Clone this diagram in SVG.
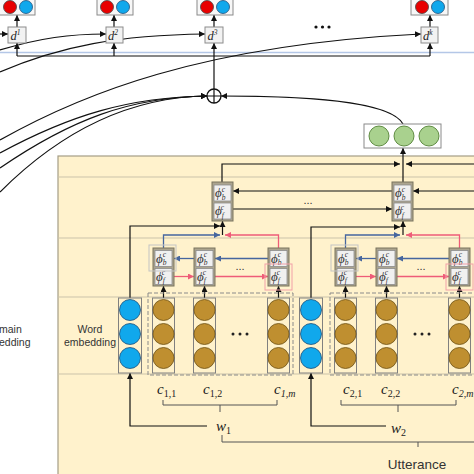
<svg xmlns="http://www.w3.org/2000/svg" width="474" height="474" viewBox="0 0 474 474">
<style>
.ln{fill:none;stroke:#111;stroke-width:1.2}
.bl{fill:none;stroke:#46669e;stroke-width:1.3}
.rd{fill:none;stroke:#ee5c78;stroke-width:1.3}
.sep{stroke:#cbc3aa;stroke-width:1}
.obox{fill:#f7f7f7;stroke:#8a8a8a;stroke-width:1}
.red{fill:#e80000;stroke:#444;stroke-width:0.8}
.blu{fill:#10a8ec;stroke:#1f4e79;stroke-width:0.8}
.grn{fill:#a9d18e;stroke:#548235;stroke-width:0.9}
.brn{fill:#bf8f30;stroke:#6b4f14;stroke-width:0.8}
.col{fill:#fff2cc;stroke:#808080;stroke-width:1}
.dbox{fill:#f2f2f2;stroke:#8c8c8c;stroke-width:1}
.pout{fill:#aca58f;stroke:#7a745f;stroke-width:1}
.pin{fill:#f0f0f0;stroke:#8c8c8c;stroke-width:0.8}
.m{font-family:"Liberation Serif",serif;font-style:italic;fill:#222}
.phi{font-family:"Liberation Serif",serif;font-style:italic;font-size:13px;fill:#333}
.lab{font-family:"Liberation Sans",Arial,sans-serif;fill:#333}
.dash{fill:none;stroke:#8a8a8a;stroke-width:1;stroke-dasharray:4 2}
.br{fill:none;stroke:#555;stroke-width:1}
</style>
<defs>
<marker id="ah" viewBox="0 0 10 10" refX="10" refY="5" markerWidth="6" markerHeight="6" orient="auto" markerUnits="userSpaceOnUse"><path d="M0,0 L10,5 L0,10 z" fill="#111"/></marker>
<marker id="ahb" viewBox="0 0 10 10" refX="10" refY="5" markerWidth="6" markerHeight="6" orient="auto" markerUnits="userSpaceOnUse"><path d="M0,0 L10,5 L0,10 z" fill="#46669e"/></marker>
<marker id="ahr" viewBox="0 0 10 10" refX="10" refY="5" markerWidth="6" markerHeight="6" orient="auto" markerUnits="userSpaceOnUse"><path d="M0,0 L10,5 L0,10 z" fill="#ee5c78"/></marker>
</defs>
<rect width="474" height="474" fill="#fff"/>

<g id="panel">
<rect x="58" y="156" width="430" height="330" fill="#fff2cc" stroke="#a59d86" stroke-width="1.2"/>
<line class="sep" x1="58" y1="177" x2="474" y2="177"/>
<line class="sep" x1="58" y1="238" x2="474" y2="238"/>
<line class="sep" x1="58" y1="297" x2="474" y2="297"/>
<line class="sep" x1="58" y1="374" x2="474" y2="374"/>
<line x1="0" y1="52.5" x2="474" y2="52.5" stroke="#b4c7e7" stroke-width="1.6"/>
</g>

<g id="connectors">
<path class="ln" d="M0,34 H8" marker-end="url(#ah)"/>
<path class="ln" d="M17,27 V15" marker-end="url(#ah)"/>
<path class="ln" d="M114,27 V15" marker-end="url(#ah)"/>
<path class="ln" d="M214,27 V15" marker-end="url(#ah)"/>
<path class="ln" d="M430,27 V15" marker-end="url(#ah)"/>
<path class="ln" d="M17,56 H430"/>
<path class="ln" d="M17,56 V43" marker-end="url(#ah)"/>
<path class="ln" d="M114,56 V43" marker-end="url(#ah)"/>
<path class="ln" d="M430,56 V43" marker-end="url(#ah)"/>
<path class="ln" d="M214,89 V43" marker-end="url(#ah)"/>
<path class="ln" d="M0,50 C40,38 70,34 106,34" marker-end="url(#ah)"/>
<path class="ln" d="M0,72 C60,46 120,35 205,34" marker-end="url(#ah)"/>
<path class="ln" d="M0,140 C80,95 200,45 421,34" marker-end="url(#ah)"/>
<path class="ln" d="M0,153 C70,115 130,97 207,96" marker-end="url(#ah)"/>
<path class="ln" d="M0,168 C70,120 130,97 207,96" marker-end="url(#ah)"/>
<path class="ln" d="M0,192 C60,132 130,97 207,96" marker-end="url(#ah)"/>
<path class="ln" d="M403,124 C390,100 300,96 221,96" marker-end="url(#ah)"/>
<path class="ln" d="M222,182 V164 H400" marker-end="url(#ah)"/>
<path class="ln" d="M474,164 H406" marker-end="url(#ah)"/>
<path class="ln" d="M403,182 V148" marker-end="url(#ah)"/>
<path class="ln" d="M474,191 H413" marker-end="url(#ah)"/>
<path class="ln" d="M392,191 H233" marker-end="url(#ah)"/>
<path class="ln" d="M233,209 H392" marker-end="url(#ah)"/>
<path class="ln" d="M413,209 H474"/>
<path class="ln" d="M130,298 V226 H220" marker-end="url(#ah)"/>
<path class="ln" d="M222.5,235 V221" marker-end="url(#ah)"/>
<path class="bl" d="M163.5,248 V235 H220" marker-end="url(#ahb)"/>
<path class="rd" d="M278.5,248 V235 H225" marker-end="url(#ahr)"/>
<path class="ln" d="M311,298 V227 H400" marker-end="url(#ah)"/>
<path class="ln" d="M403,235 V221" marker-end="url(#ah)"/>
<path class="bl" d="M345.5,248 V235 H400" marker-end="url(#ahb)"/>
<path class="rd" d="M459.5,248 V235 H406" marker-end="url(#ahr)"/>
<path class="bl" d="M268,258.5 H215" marker-end="url(#ahb)"/>
<path class="bl" d="M194,258.5 H174" marker-end="url(#ahb)"/>
<path class="rd" d="M174,276.5 H194" marker-end="url(#ahr)"/>
<path class="rd" d="M215,276.5 H268" marker-end="url(#ahr)"/>
<path class="bl" d="M449,258.5 H397" marker-end="url(#ahb)"/>
<path class="bl" d="M376,258.5 H356" marker-end="url(#ahb)"/>
<path class="rd" d="M356,276.5 H376" marker-end="url(#ahr)"/>
<path class="rd" d="M397,276.5 H449" marker-end="url(#ahr)"/>
<path class="ln" d="M163.5,298 V286" marker-end="url(#ah)"/>
<path class="ln" d="M204.5,298 V286" marker-end="url(#ah)"/>
<path class="ln" d="M278.5,298 V286" marker-end="url(#ah)"/>
<path class="ln" d="M345.5,298 V286" marker-end="url(#ah)"/>
<path class="ln" d="M386.5,298 V286" marker-end="url(#ah)"/>
<path class="ln" d="M459.5,298 V286" marker-end="url(#ah)"/>
<path class="ln" d="M207,426 H130 V373" marker-end="url(#ah)"/>
<path class="ln" d="M386,426 H311 V373" marker-end="url(#ah)"/>
<path class="br" d="M163,400 V405 H277 V400 M220,405 V412"/>
<path class="br" d="M341,400 V405 H456 V400 M398,405 V412"/>
<path class="br" d="M222,435 V442 H474 M418,442 V447"/>
</g>

<g id="out1"><rect class="obox" x="-2" y="-2" width="37" height="17"/><circle class="red" cx="10" cy="7" r="6.5"/><circle class="blu" cx="26" cy="7" r="6.5"/></g>
<g id="out2"><rect class="obox" x="97" y="-2" width="36" height="17"/><circle class="red" cx="107" cy="7" r="6.5"/><circle class="blu" cx="123" cy="7" r="6.5"/></g>
<g id="out3"><rect class="obox" x="197" y="-2" width="36" height="17"/><circle class="red" cx="207" cy="7" r="6.5"/><circle class="blu" cx="223" cy="7" r="6.5"/></g>
<g id="outk"><rect class="obox" x="411" y="-2" width="37" height="17"/><circle class="red" cx="422" cy="7" r="6.5"/><circle class="blu" cx="438" cy="7" r="6.5"/></g>

<g id="d1"><rect class="dbox" x="8" y="27" width="18" height="16"/><text class="m" x="10.5" y="39.5" font-size="12.5">d<tspan font-size="7.5" dy="-5">1</tspan></text></g>
<g id="d2"><rect class="dbox" x="106" y="27" width="17" height="16"/><text class="m" x="108" y="39.5" font-size="12.5">d<tspan font-size="7.5" dy="-5">2</tspan></text></g>
<g id="d3"><rect class="dbox" x="205" y="27" width="18" height="16"/><text class="m" x="207.5" y="39.5" font-size="12.5">d<tspan font-size="7.5" dy="-5">3</tspan></text></g>
<g id="dk"><rect class="dbox" x="421" y="27" width="17" height="16"/><text class="m" x="423" y="39.5" font-size="12.5">d<tspan font-size="7.5" dy="-5">k</tspan></text></g>
<g id="dots-top"><circle cx="316" cy="27" r="1.6" fill="#111"/><circle cx="322.5" cy="27" r="1.6" fill="#111"/><circle cx="329" cy="27" r="1.6" fill="#111"/></g>

<g id="oplus"><circle cx="214" cy="96" r="7" fill="#fff" stroke="#111" stroke-width="1.3"/><path d="M207,96 H221 M214,89 V103" stroke="#111" stroke-width="1.2"/></g>

<g id="sent"><rect x="364" y="124" width="77" height="24" fill="#fff" stroke="#8a8a8a" stroke-width="1"/><circle class="grn" cx="379" cy="136" r="10"/><circle class="grn" cx="404" cy="136" r="10"/><circle class="grn" cx="429" cy="136" r="10"/></g>

<g id="pw1"><rect class="pout" x="212" y="182" width="21" height="39"/><rect class="pin" x="214" y="185" width="17" height="16"/><rect class="pin" x="214" y="203" width="17" height="16"/>
<text class="phi" x="215" y="197">ϕ<tspan font-size="7.5" dy="2.5">b</tspan><tspan font-size="7.5" dx="-3.8" dy="-8">c</tspan></text>
<text class="phi" x="215" y="215">ϕ<tspan font-size="7.5" dy="2.5">f</tspan><tspan font-size="7.5" dx="-3" dy="-8">c</tspan></text></g>
<g id="pw2"><rect class="pout" x="392" y="182" width="21" height="39"/><rect class="pin" x="394" y="185" width="17" height="16"/><rect class="pin" x="394" y="203" width="17" height="16"/>
<text class="phi" x="395" y="197">ϕ<tspan font-size="7.5" dy="2.5">b</tspan><tspan font-size="7.5" dx="-3.8" dy="-8">c</tspan></text>
<text class="phi" x="395" y="215">ϕ<tspan font-size="7.5" dy="2.5">f</tspan><tspan font-size="7.5" dx="-3" dy="-8">c</tspan></text></g>
<text class="lab" x="308" y="204" font-size="11" text-anchor="middle">...</text>

<g id="pcA"><rect class="pout" x="153" y="248" width="21" height="38"/><rect class="pin" x="155" y="250.5" width="17" height="16"/><rect class="pin" x="155" y="268.5" width="17" height="16"/>
<text class="phi" x="156" y="262.5">ϕ<tspan font-size="7.5" dy="2.5">b</tspan><tspan font-size="7.5" dx="-3.8" dy="-8">c</tspan></text>
<text class="phi" x="156" y="280.5">ϕ<tspan font-size="7.5" dy="2.5">f</tspan><tspan font-size="7.5" dx="-3" dy="-8">c</tspan></text>
<rect x="149" y="245" width="27" height="26" fill="none" stroke="#c4c4c4" stroke-width="1"/></g>
<g id="pcB"><rect class="pout" x="194" y="248" width="21" height="38"/><rect class="pin" x="196" y="250.5" width="17" height="16"/><rect class="pin" x="196" y="268.5" width="17" height="16"/>
<text class="phi" x="197" y="262.5">ϕ<tspan font-size="7.5" dy="2.5">b</tspan><tspan font-size="7.5" dx="-3.8" dy="-8">c</tspan></text>
<text class="phi" x="197" y="280.5">ϕ<tspan font-size="7.5" dy="2.5">f</tspan><tspan font-size="7.5" dx="-3" dy="-8">c</tspan></text></g>
<g id="pcC"><rect class="pout" x="268" y="248" width="21" height="38"/><rect class="pin" x="270" y="250.5" width="17" height="16"/><rect class="pin" x="270" y="268.5" width="17" height="16"/>
<text class="phi" x="271" y="262.5">ϕ<tspan font-size="7.5" dy="2.5">b</tspan><tspan font-size="7.5" dx="-3.8" dy="-8">c</tspan></text>
<text class="phi" x="271" y="280.5">ϕ<tspan font-size="7.5" dy="2.5">f</tspan><tspan font-size="7.5" dx="-3" dy="-8">c</tspan></text>
<rect x="265" y="264" width="27" height="26" fill="none" stroke="#f2a0a8" stroke-width="1"/></g>
<text class="lab" x="240" y="270" font-size="11" text-anchor="middle">...</text>

<g id="pcD"><rect class="pout" x="335" y="248" width="21" height="38"/><rect class="pin" x="337" y="250.5" width="17" height="16"/><rect class="pin" x="337" y="268.5" width="17" height="16"/>
<text class="phi" x="338" y="262.5">ϕ<tspan font-size="7.5" dy="2.5">b</tspan><tspan font-size="7.5" dx="-3.8" dy="-8">c</tspan></text>
<text class="phi" x="338" y="280.5">ϕ<tspan font-size="7.5" dy="2.5">f</tspan><tspan font-size="7.5" dx="-3" dy="-8">c</tspan></text>
<rect x="331" y="245" width="27" height="26" fill="none" stroke="#c4c4c4" stroke-width="1"/></g>
<g id="pcE"><rect class="pout" x="376" y="248" width="21" height="38"/><rect class="pin" x="378" y="250.5" width="17" height="16"/><rect class="pin" x="378" y="268.5" width="17" height="16"/>
<text class="phi" x="379" y="262.5">ϕ<tspan font-size="7.5" dy="2.5">b</tspan><tspan font-size="7.5" dx="-3.8" dy="-8">c</tspan></text>
<text class="phi" x="379" y="280.5">ϕ<tspan font-size="7.5" dy="2.5">f</tspan><tspan font-size="7.5" dx="-3" dy="-8">c</tspan></text></g>
<g id="pcF"><rect class="pout" x="449" y="248" width="21" height="38"/><rect class="pin" x="451" y="250.5" width="17" height="16"/><rect class="pin" x="451" y="268.5" width="17" height="16"/>
<text class="phi" x="452" y="262.5">ϕ<tspan font-size="7.5" dy="2.5">b</tspan><tspan font-size="7.5" dx="-3.8" dy="-8">c</tspan></text>
<text class="phi" x="452" y="280.5">ϕ<tspan font-size="7.5" dy="2.5">f</tspan><tspan font-size="7.5" dx="-3" dy="-8">c</tspan></text>
<rect x="446" y="264" width="27" height="26" fill="none" stroke="#f2a0a8" stroke-width="1"/></g>
<text class="lab" x="421" y="270" font-size="11" text-anchor="middle">...</text>

<rect class="dash" x="148" y="293" width="145" height="82"/>
<rect class="dash" x="330" y="293" width="150" height="82"/>
<g id="we1"><rect class="col" x="118.5" y="298" width="23" height="75"/><circle class="blu" cx="130" cy="310" r="10.5"/><circle class="blu" cx="130" cy="334" r="10.5"/><circle class="blu" cx="130" cy="358" r="10.5"/></g>
<g id="ceA"><rect class="col" x="152.5" y="298" width="22" height="75"/><circle class="brn" cx="163.5" cy="310" r="10.5"/><circle class="brn" cx="163.5" cy="334" r="10.5"/><circle class="brn" cx="163.5" cy="358" r="10.5"/></g>
<g id="ceB"><rect class="col" x="193.5" y="298" width="22" height="75"/><circle class="brn" cx="204.5" cy="310" r="10.5"/><circle class="brn" cx="204.5" cy="334" r="10.5"/><circle class="brn" cx="204.5" cy="358" r="10.5"/></g>
<g id="ceC"><rect class="col" x="267.5" y="298" width="22" height="75"/><circle class="brn" cx="278.5" cy="310" r="10.5"/><circle class="brn" cx="278.5" cy="334" r="10.5"/><circle class="brn" cx="278.5" cy="358" r="10.5"/></g>
<g id="we2"><rect class="col" x="299.5" y="298" width="23" height="75"/><circle class="blu" cx="311" cy="310" r="10.5"/><circle class="blu" cx="311" cy="334" r="10.5"/><circle class="blu" cx="311" cy="358" r="10.5"/></g>
<g id="ceD"><rect class="col" x="334.5" y="298" width="22" height="75"/><circle class="brn" cx="345.5" cy="310" r="10.5"/><circle class="brn" cx="345.5" cy="334" r="10.5"/><circle class="brn" cx="345.5" cy="358" r="10.5"/></g>
<g id="ceE"><rect class="col" x="375.5" y="298" width="22" height="75"/><circle class="brn" cx="386.5" cy="310" r="10.5"/><circle class="brn" cx="386.5" cy="334" r="10.5"/><circle class="brn" cx="386.5" cy="358" r="10.5"/></g>
<g id="ceF"><rect class="col" x="448.5" y="298" width="22" height="75"/><circle class="brn" cx="459.5" cy="310" r="10.5"/><circle class="brn" cx="459.5" cy="334" r="10.5"/><circle class="brn" cx="459.5" cy="358" r="10.5"/></g>
<g fill="#222"><circle cx="233" cy="334" r="1.5"/><circle cx="240" cy="334" r="1.5"/><circle cx="247" cy="334" r="1.5"/><circle cx="415" cy="334" r="1.5"/><circle cx="422" cy="334" r="1.5"/><circle cx="429" cy="334" r="1.5"/></g>

<text class="lab" x="90" y="333" font-size="10.5" text-anchor="middle">Word</text>
<text class="lab" x="90" y="346" font-size="10.5" text-anchor="middle">embedding</text>
<text class="lab" x="-1" y="333" font-size="10.5">main</text>
<text class="lab" x="-1" y="346" font-size="10.5">edding</text>
<text class="m" x="157" y="394" font-size="15">c<tspan font-size="10" dy="3" font-style="normal">1,1</tspan></text>
<text class="m" x="203" y="394" font-size="15">c<tspan font-size="10" dy="3" font-style="normal">1,2</tspan></text>
<text class="m" x="274" y="394" font-size="15">c<tspan font-size="10" dy="3">1,m</tspan></text>
<text class="m" x="343" y="394" font-size="15">c<tspan font-size="10" dy="3" font-style="normal">2,1</tspan></text>
<text class="m" x="381" y="394" font-size="15">c<tspan font-size="10" dy="3" font-style="normal">2,2</tspan></text>
<text class="m" x="452" y="394" font-size="15">c<tspan font-size="10" dy="3">2,m</tspan></text>
<text class="m" x="216" y="431" font-size="15">w<tspan font-size="10" dy="3" font-style="normal">1</tspan></text>
<text class="m" x="391" y="433" font-size="15">w<tspan font-size="10" dy="3" font-style="normal">2</tspan></text>
<text class="lab" x="417" y="469" font-size="13.5" text-anchor="middle">Utterance</text>
</svg>
